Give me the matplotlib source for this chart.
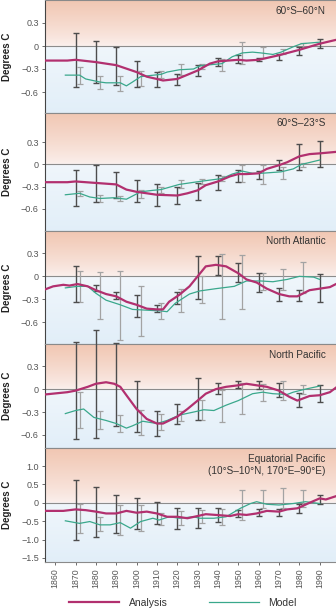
import matplotlib
matplotlib.use("Agg")
import matplotlib.pyplot as plt
from matplotlib.lines import Line2D
import numpy as np

plt.rcParams['font.family'] = ['Liberation Sans', 'DejaVu Sans']

# ---- data: decadal SST anomalies (Degrees C) ----
titles = ["60°S–60°N", "60°S–23°S", "North Atlantic", "North Pacific",
          "Equatorial Pacific\n(10°S–10°N, 170°E–90°E)"]

# analysis curves
ana_years_1 = [1855, 1866, 1870, 1880, 1890, 1900, 1905, 1910, 1913, 1920, 1930, 1936, 1940,
               1950, 1954, 1960, 1970, 1980, 1990, 1998]
ana_vals_1 = [-0.19, -0.19, -0.18, -0.21, -0.25, -0.34, -0.40, -0.43, -0.45, -0.43, -0.32, -0.23,
              -0.20, -0.18, -0.19, -0.18, -0.12, -0.05, 0.03, 0.08]
ana_years_2 = [1855, 1866, 1870, 1880, 1890, 1895, 1900, 1905, 1910, 1920, 1925, 1930, 1934, 1940,
               1946, 1950, 1954, 1960, 1964, 1970, 1974, 1980, 1985, 1990, 1998]
ana_vals_2 = [-0.24, -0.24, -0.23, -0.25, -0.27, -0.34, -0.37, -0.39, -0.41, -0.42, -0.39, -0.35,
              -0.28, -0.23, -0.16, -0.13, -0.13, -0.12, -0.06, -0.01, 0.03, 0.11, 0.14, 0.15, 0.17]
ana_years_3 = [1855, 1859, 1864, 1867, 1871, 1876, 1880, 1885, 1890, 1895, 1900, 1905, 1910, 1913,
               1916, 1921, 1926, 1930, 1934, 1939, 1944, 1950, 1954, 1959, 1964, 1970, 1975, 1979,
               1985, 1990, 1995, 1998]
ana_vals_3 = [-0.17, -0.13, -0.11, -0.12, -0.10, -0.13, -0.18, -0.23, -0.26, -0.33, -0.37, -0.42,
              -0.43, -0.43, -0.33, -0.24, -0.13, 0.0, 0.13, 0.15, 0.13, 0.04, -0.04, -0.08, -0.16,
              -0.23, -0.26, -0.26, -0.18, -0.16, -0.14, -0.10]
ana_years_4 = [1855, 1866, 1870, 1876, 1880, 1885, 1889, 1892, 1895, 1900, 1905, 1910, 1913, 1920,
               1925, 1930, 1934, 1939, 1944, 1950, 1954, 1959, 1964, 1970, 1975, 1979, 1985, 1990,
               1995, 1998]
ana_vals_4 = [-0.07, -0.04, -0.02, 0.03, 0.07, 0.09, 0.07, 0.03, -0.08, -0.26, -0.39, -0.45, -0.45,
              -0.36, -0.26, -0.15, -0.06, 0.0, 0.03, 0.05, 0.07, 0.05, 0.03, -0.02, -0.10, -0.15,
              -0.09, -0.08, -0.04, 0.02]
ana_years_5 = [1855, 1864, 1870, 1875, 1880, 1885, 1890, 1895, 1900, 1905, 1910, 1915, 1920, 1925,
               1930, 1934, 1939, 1946, 1950, 1954, 1959, 1964, 1970, 1974, 1979, 1985, 1990, 1993,
               1998]
ana_vals_5 = [-0.22, -0.22, -0.18, -0.20, -0.24, -0.29, -0.29, -0.22, -0.27, -0.24, -0.29, -0.38,
              -0.38, -0.42, -0.36, -0.31, -0.33, -0.36, -0.31, -0.33, -0.29, -0.22, -0.24, -0.18,
              -0.15, 0.0, 0.12, 0.09, 0.18]

# model curves
mod_years_1 = [1865, 1872, 1875, 1882, 1885, 1892, 1895, 1898, 1902, 1905, 1912, 1915, 1921, 1928,
               1931, 1934, 1942, 1947, 1952, 1957, 1961, 1967, 1971, 1977, 1981, 1990]
mod_vals_1 = [-0.38, -0.38, -0.43, -0.47, -0.48, -0.48, -0.52, -0.47, -0.40, -0.39, -0.37, -0.34,
              -0.31, -0.30, -0.26, -0.25, -0.23, -0.14, -0.09, -0.08, -0.09, -0.11, -0.08, -0.01,
              0.03, 0.05]
mod_years_2 = [1865, 1872, 1877, 1882, 1889, 1895, 1902, 1908, 1912, 1921, 1931, 1942, 1947, 1952,
               1957, 1961, 1971, 1977, 1981, 1990]
mod_vals_2 = [-0.41, -0.39, -0.44, -0.46, -0.45, -0.47, -0.37, -0.35, -0.34, -0.27, -0.23, -0.19,
              -0.13, -0.09, -0.12, -0.12, -0.10, -0.06, 0.0, 0.06]
mod_years_3 = [1865, 1871, 1876, 1880, 1885, 1892, 1898, 1905, 1912, 1915, 1919, 1926, 1931, 1939,
               1948, 1954, 1961, 1967, 1974, 1980, 1987, 1990]
mod_vals_3 = [-0.15, -0.13, -0.13, -0.22, -0.31, -0.37, -0.43, -0.44, -0.45, -0.46, -0.35, -0.23,
              -0.19, -0.16, -0.13, -0.06, -0.06, -0.07, -0.04, 0.0, -0.01, -0.04]
mod_years_4 = [1865, 1870, 1874, 1879, 1885, 1890, 1895, 1898, 1903, 1910, 1915, 1921, 1928, 1933,
               1938, 1944, 1950, 1957, 1962, 1967, 1974, 1977, 1983, 1990]
mod_vals_4 = [-0.32, -0.28, -0.26, -0.37, -0.41, -0.45, -0.51, -0.48, -0.42, -0.45, -0.41, -0.34,
              -0.30, -0.27, -0.28, -0.21, -0.15, -0.06, -0.04, -0.06, -0.07, -0.04, 0.0, 0.04]
mod_years_5 = [1865, 1872, 1877, 1882, 1887, 1892, 1897, 1902, 1908, 1911, 1916, 1921, 1928, 1931,
               1938, 1944, 1951, 1956, 1959, 1964, 1970, 1977, 1983, 1990]
mod_vals_5 = [-0.49, -0.56, -0.51, -0.60, -0.60, -0.54, -0.69, -0.51, -0.42, -0.47, -0.38, -0.42,
              -0.38, -0.42, -0.42, -0.38, -0.15, -0.02, 0.03, -0.04, -0.06, -0.02, 0.03, -0.02]

# error bar ranges (low, high)
ana_bar_years = [1870, 1880, 1890, 1900, 1910, 1920, 1930, 1940, 1950, 1960, 1970, 1980, 1990]
mod_bar_years = [1872, 1882, 1892, 1902, 1912, 1922, 1932, 1942, 1952, 1962, 1972, 1982]

ana_lo_1 = [-0.54, -0.48, -0.51, -0.53, -0.54, -0.51, -0.39, -0.26, -0.22, -0.20, -0.18, -0.12, -0.03]
ana_hi_1 = [0.17, 0.06, -0.01, -0.20, -0.34, -0.36, -0.25, -0.15, -0.12, -0.16, -0.11, -0.01, 0.09]
mod_lo_1 = [-0.49, -0.56, -0.59, -0.52, -0.42, -0.38, -0.30, -0.33, -0.24, -0.16, -0.11, -0.01]
mod_hi_1 = [-0.27, -0.39, -0.39, -0.33, -0.32, -0.24, -0.23, -0.17, 0.05, -0.01, -0.04, 0.04]

ana_lo_2 = [-0.56, -0.51, -0.45, -0.51, -0.56, -0.54, -0.48, -0.35, -0.24, -0.19, -0.07, -0.07, -0.03]
ana_hi_2 = [-0.07, -0.01, -0.10, -0.21, -0.26, -0.30, -0.25, -0.14, -0.08, -0.09, 0.06, 0.27, 0.32]
mod_lo_2 = [-0.43, -0.51, -0.49, -0.45, -0.38, -0.32, -0.26, -0.23, -0.24, -0.26, -0.19, -0.04]
mod_hi_2 = [-0.36, -0.41, -0.43, -0.35, -0.30, -0.21, -0.20, -0.15, -0.01, -0.01, -0.04, 0.02]

ana_lo_3 = [-0.33, -0.19, -0.29, -0.53, -0.46, -0.36, -0.29, 0.02, -0.07, -0.21, -0.32, -0.32, -0.34]
ana_hi_3 = [0.13, -0.11, -0.21, -0.24, -0.37, -0.21, 0.27, 0.27, 0.18, 0.05, -0.15, -0.18, 0.03]
mod_lo_3 = [-0.33, -0.55, -0.83, -0.77, -0.56, -0.46, -0.35, -0.56, -0.43, -0.18, -0.18, -0.22]
mod_hi_3 = [0.07, 0.06, 0.07, -0.13, -0.35, -0.17, 0.0, 0.29, 0.28, 0.05, 0.09, 0.19]

ana_lo_4 = [-0.65, -0.64, -0.48, -0.56, -0.61, -0.45, -0.40, -0.06, 0.01, 0.0, -0.10, -0.23, -0.17]
ana_hi_4 = [0.61, 0.77, 0.60, 0.11, -0.28, -0.20, 0.15, 0.08, 0.11, 0.11, 0.08, -0.05, 0.05]
mod_lo_4 = [-0.51, -0.52, -0.56, -0.60, -0.53, -0.42, -0.41, -0.43, -0.33, -0.15, -0.14, -0.06]
mod_hi_4 = [-0.04, -0.28, -0.34, -0.27, -0.33, -0.29, -0.14, -0.01, 0.08, 0.07, 0.10, 0.05]

ana_lo_5 = [-1.0, -0.93, -0.83, -0.71, -0.58, -0.72, -0.69, -0.51, -0.38, -0.36, -0.35, -0.29, -0.02]
ana_hi_5 = [0.61, 0.43, 0.21, 0.12, 0.03, -0.15, -0.13, -0.13, -0.20, -0.18, -0.17, -0.04, 0.21]
mod_lo_5 = [-0.83, -0.78, -0.87, -0.78, -0.60, -0.60, -0.56, -0.60, -0.47, -0.15, -0.15, -0.11]
mod_hi_5 = [-0.04, -0.38, -0.06, -0.06, -0.27, -0.22, -0.20, -0.18, 0.36, 0.34, 0.39, 0.36]

panels = [
    (ana_years_1, ana_vals_1, mod_years_1, mod_vals_1, ana_lo_1, ana_hi_1, mod_lo_1, mod_hi_1),
    (ana_years_2, ana_vals_2, mod_years_2, mod_vals_2, ana_lo_2, ana_hi_2, mod_lo_2, mod_hi_2),
    (ana_years_3, ana_vals_3, mod_years_3, mod_vals_3, ana_lo_3, ana_hi_3, mod_lo_3, mod_hi_3),
    (ana_years_4, ana_vals_4, mod_years_4, mod_vals_4, ana_lo_4, ana_hi_4, mod_lo_4, mod_hi_4),
    (ana_years_5, ana_vals_5, mod_years_5, mod_vals_5, ana_lo_5, ana_hi_5, mod_lo_5, mod_hi_5),
]

# ---- layout (pixels, figure is 336 x 615) ----
W, H = 336, 615
edges = [0, 112.7, 231, 344, 448, 562]
ylims = [(-0.87, 0.60), (-0.90, 0.70), (-0.88, 0.59), (-0.77, 0.59), (-1.61, 1.49)]
yticks = [[0.3, 0, -0.3, -0.6]] * 4 + [[1.0, 0.5, 0, -0.5, -1.0, -1.5]]
xlim = (1855, 1998)

ANA_C = '#b2306f'
MOD_C = '#3aa88c'
DARK_BAR = '#4d4d4d'
LIGHT_BAR = '#a3a3a3'
TICK_C = '#555555'

fig = plt.figure(figsize=(W / 100, H / 100), dpi=100)


def fmt_tick(v):
    if v == 0:
        return '0'
    s = f'{abs(v):.1f}'
    return ('\u2212' + s) if v < 0 else s


def background(ax, lo, hi):
    # warm above zero, cool below
    vals = np.linspace(hi, lo, 300)
    img = np.zeros((len(vals), 1, 3))
    warm0, warm1 = np.array([0.985, 0.945, 0.935]), np.array([0.945, 0.780, 0.700])
    cool0, cool1 = np.array([0.940, 0.965, 0.985]), np.array([0.885, 0.935, 0.975])
    for i, v in enumerate(vals):
        if v >= 0:
            t = min(v / hi, 1.0)
            img[i, 0] = warm0 + (warm1 - warm0) * t ** 0.8
        else:
            t = min(v / lo, 1.0)
            img[i, 0] = cool0 + (cool1 - cool0) * t
    ax.imshow(img, extent=[xlim[0], xlim[1], lo, hi], aspect='auto', zorder=0,
              interpolation='bilinear')


def bars(ax, years, lo, hi, color, lw, clip):
    lo, hi = np.array(lo), np.array(hi)
    eb = ax.errorbar(years, (lo + hi) / 2, yerr=(hi - lo) / 2, fmt='none', ecolor=color,
                     elinewidth=lw, capsize=2.2, capthick=lw, zorder=3)
    for art in eb.lines[1] + eb.lines[2]:
        art.set_clip_on(clip)


for i, (ay, av, my, mv, alo, ahi, mlo, mhi) in enumerate(panels):
    top, bot = edges[i], edges[i + 1]
    ax = fig.add_axes([45 / W, 1 - bot / H, 1 - 45 / W, (bot - top) / H])
    lo, hi = ylims[i]
    background(ax, lo, hi)
    ax.axhline(0, color='#8c8c8c', lw=0.8, zorder=1)

    bars(ax, mod_bar_years, mlo, mhi, LIGHT_BAR, 0.9, True)
    bars(ax, ana_bar_years, alo, ahi, DARK_BAR, 1.0, i != 3)
    ax.plot(my, mv, color=MOD_C, lw=0.9, zorder=4)
    ax.plot(ay, av, color=ANA_C, lw=1.6, zorder=5)

    ax.set_xlim(*xlim)
    ax.set_ylim(lo, hi)
    ax.set_yticks(yticks[i])
    ax.set_yticklabels([fmt_tick(v) for v in yticks[i]])
    ax.tick_params(axis='y', direction='out', length=2.5, width=0.6, colors=TICK_C,
                   labelsize=6.5, pad=2)
    ax.set_ylabel('Degrees C', fontsize=7, fontweight='bold', color='#222222')
    ax.yaxis.set_label_coords(-0.115, 0.5)

    for side in ['top', 'bottom']:
        ax.spines[side].set_color('#8a8a8a')
        ax.spines[side].set_linewidth(0.8)
    ax.spines['right'].set_visible(False)
    ax.spines['left'].set_color('#444444')
    ax.spines['left'].set_linewidth(0.8)

    h_px = bot - top
    ax.text(0.965, 1 - 5.5 / h_px, titles[i], transform=ax.transAxes, ha='right', va='top',
            ma='right', fontsize=7.2, color='#333333', linespacing=1.35, zorder=6)

    if i < 4:
        ax.tick_params(axis='x', bottom=False, labelbottom=False)
    else:
        ax.set_xticks(np.arange(1860, 1991, 10))
        ax.tick_params(axis='x', direction='out', length=2.5, width=0.6, colors=TICK_C,
                       labelsize=6.3, labelrotation=90, pad=2)

handles = [Line2D([], [], color=ANA_C, lw=1.6), Line2D([], [], color=MOD_C, lw=0.9)]
fig.legend(handles, ['Analysis', 'Model'], loc='lower center', bbox_to_anchor=(0.545, -0.004),
           ncol=2, frameon=False, fontsize=7.5, handlelength=4.8, columnspacing=4.0,
           handletextpad=0.9, labelcolor='#333333')

fig.savefig('out.png', dpi=100)
